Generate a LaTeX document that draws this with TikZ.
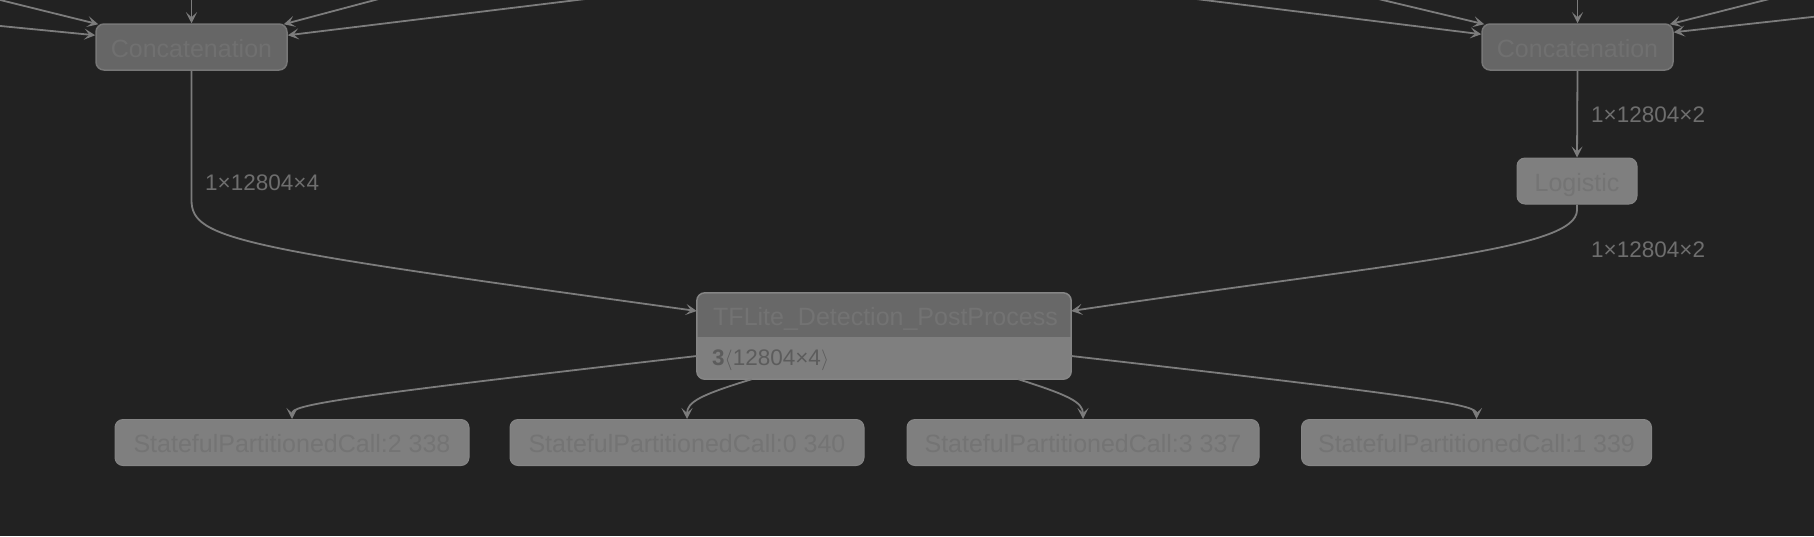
\documentclass[tikz,border=0pt]{standalone}
\usepackage{fontspec}
\setmainfont{Liberation Sans}
\usetikzlibrary{arrows.meta}
\definecolor{bg}{HTML}{222222}
\definecolor{edgec}{HTML}{7C7C7C}
\definecolor{concatfill}{HTML}{666666}
\definecolor{concatdraw}{HTML}{777777}
\definecolor{concattext}{HTML}{707070}
\definecolor{grayfill}{HTML}{7F7F7F}
\definecolor{graydraw}{HTML}{858585}
\definecolor{graytext}{HTML}{747474}
\definecolor{hdrfill}{HTML}{686868}
\definecolor{hdrtext}{HTML}{737373}
\definecolor{bodytext}{HTML}{5C5C5C}
\definecolor{labeltext}{HTML}{6E6E6E}
\tikzset{
  nodefont/.style={font=\fontsize{25}{29}\selectfont, text height=20.5pt, text depth=0pt},
  concatbox/.style={nodefont, rounded corners=8pt, fill=concatfill, draw=concatdraw, line width=1.5pt, text=concattext, minimum width=191pt, minimum height=46pt, inner sep=0pt},
  graybox/.style={nodefont, rounded corners=8pt, fill=grayfill, draw=graydraw, line width=1pt, text=graytext, minimum height=46pt, inner sep=0pt},
  edgelabel/.style={font=\fontsize{22.5}{26}\selectfont, text=labeltext, anchor=west, inner sep=0pt},
  conn/.style={draw=edgec, line width=1.8pt, -{Stealth[length=11pt,width=11pt,inset=5pt]}},
}
\begin{document}
\begin{tikzpicture}[x=1pt,y=-1pt]
\fill[bg] (0,0) rectangle (1814,536);
\useasboundingbox (0,0) rectangle (1814,536);

% nodes
\node[concatbox] (c1) at (191.5,47) {Concatenation};
\node[concatbox] (c2) at (1577.5,47) {Concatenation};
\node[graybox, minimum width=120pt] (lg) at (1577,181) {Logistic};

% TFLite node
\node[rounded corners=8pt, fill=grayfill, minimum width=374pt, minimum height=86pt, inner sep=0pt] (tf) at (884,336) {};
\begin{scope}
  \clip[rounded corners=8pt] (tf.south west) rectangle (tf.north east);
  \fill[hdrfill] (tf.north west) rectangle ([yshift=-44pt]tf.north east);
\end{scope}
\draw[graydraw, line width=1.5pt, rounded corners=8pt] (tf.south west) rectangle (tf.north east);
\node[nodefont, text=hdrtext, anchor=west, inner sep=0pt] (tft) at (713,315) {TFLite\_Detection\_PostProcess};
\node[font=\fontsize{22.5}{26}\selectfont, text=bodytext, anchor=west, inner sep=0pt] (tfb) at (712,360) {\textbf{3}$\langle$12804×4$\rangle$};

% bottom nodes
\node[graybox, minimum width=354pt] (s2) at (292,442.5) {StatefulPartitionedCall:2 338};
\node[graybox, minimum width=354pt] (s0) at (687,442.5) {StatefulPartitionedCall:0 340};
\node[graybox, minimum width=352pt] (s3) at (1083,442.5) {StatefulPartitionedCall:3 337};
\node[graybox, minimum width=350pt] (s1) at (1476.5,442.5) {StatefulPartitionedCall:1 339};

% free ends of incoming edges
\coordinate (a1) at (-20,-5);
\coordinate (a2) at (-20,24);
\coordinate (a3) at (191.5,-5);
\coordinate (a4) at (390,-4);
\coordinate (a5) at (610,-4);
\coordinate (b1) at (1180,-3);
\coordinate (b2) at (1370,-3);
\coordinate (b3) at (1577.5,-5);
\coordinate (b4) at (1785,-5);
\coordinate (b5) at (1830,15);

\draw[conn] (a1) -- ([xshift=3pt,yshift=-1pt]c1.north west);
\draw[conn] (a2) -- ([yshift=-12pt]c1.north west);
\draw[conn] (a3) -- (c1.north);
\draw[conn] (a4) -- ([xshift=-4pt,yshift=-1pt]c1.north east);
\draw[conn] (a5) -- ([yshift=-12pt]c1.north east);
\draw[conn] (b1) -- ([yshift=-11pt]c2.north west);
\draw[conn] (b2) -- ([xshift=3pt,yshift=-1pt]c2.north west);
\draw[conn] (b3) -- (c2.north);
\draw[conn] (b4) -- ([xshift=-4pt,yshift=-1pt]c2.north east);
\draw[conn] (b5) -- ([yshift=-9pt]c2.north east);

% main edges
\draw[conn] (c1.south) -- (191.5,200) .. controls (191.5,240) and (240,248) .. ([yshift=25pt]tf.west);
\draw[conn] (c2.south) -- (lg.north);
\draw[conn] (lg.south) -- (1577,210) .. controls (1577,250) and (1400,262) .. ([yshift=25pt]tf.east);

\draw[conn] ([yshift=-20pt]tf.west) .. controls (330,398) and (292,405) .. (s2.north);
\draw[conn] ([xshift=55pt]tf.south west) .. controls (700,395) and (687,402) .. (s0.north);
\draw[conn] ([xshift=-53pt]tf.south east) .. controls (1068,395) and (1083,402) .. (s3.north);
\draw[conn] ([yshift=-20pt]tf.east) .. controls (1440,398) and (1476.5,405) .. (s1.north);

% edge labels
\node[edgelabel] (l1) at (205,183) {1×12804×4};
\node[edgelabel] (l2) at (1591,115) {1×12804×2};
\node[edgelabel] (l3) at (1591,250) {1×12804×2};
\end{tikzpicture}
\end{document}
